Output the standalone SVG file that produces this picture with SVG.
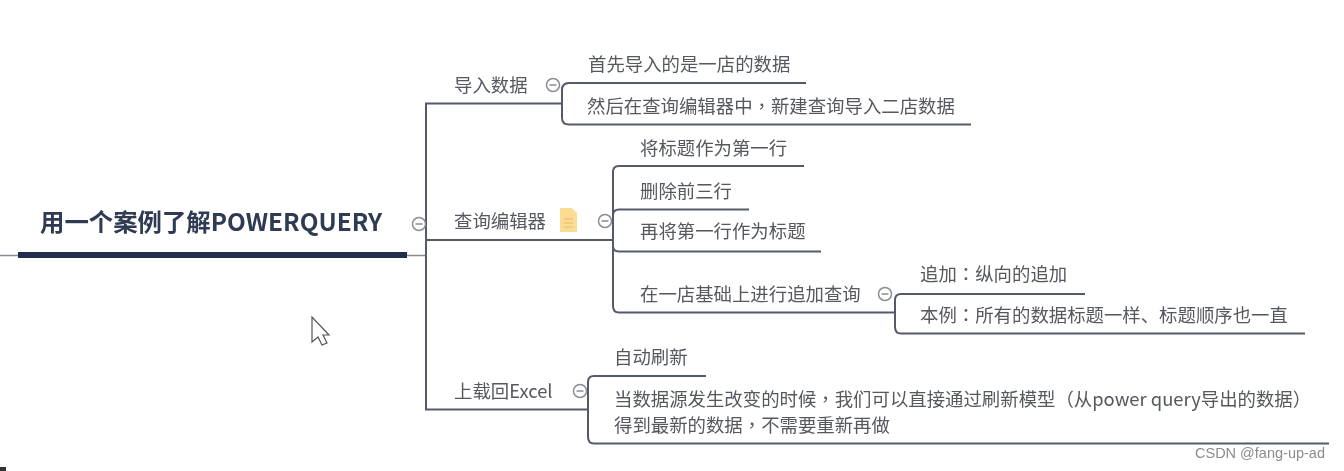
<svg xmlns="http://www.w3.org/2000/svg" width="1344" height="471" viewBox="0 0 1344 471">
<style>
text{font-family:"Noto Sans CJK SC","Liberation Sans",sans-serif;font-size:18.400px;fill:#55585f}
.p{font-family:"Noto Sans CJK TC",sans-serif}
.c{fill:none;stroke:#555a68;stroke-width:2}
.t{fill:#fff;stroke:#8a8d94;stroke-width:1.5}
.m{stroke:#8a8d94;stroke-width:1.5}
.title{font-size:24.400px;font-weight:700;fill:#2f3a52}
.wm{font-family:"Liberation Sans",sans-serif;font-size:14.500px;fill:#8c8c8c}
</style>
<defs>
<g id="tog"><circle r="6.5" class="t"/><line x1="-3.5" x2="3.5" class="m"/></g>
<filter id="soft" x="0" y="0" width="100%" height="100%"><feGaussianBlur stdDeviation="0.35"/></filter>
</defs>
<rect width="1344" height="471" fill="#fff"/>
<g filter="url(#soft)">
<g id="connectors">
<path class="c" style="stroke:#8a8d94;stroke-width:1.5" d="M0 255.500H18M407 255.500H426"/>
<path class="c" d="M562 103.500H426V409.500H588"/>
<path class="c" d="M426 240H613"/>
<path class="c" d="M806 83H569Q562 83 562 90V118Q562 124.500 569 124.500H971"/>
<path class="c" d="M804 166H619Q613 166 613 172V306Q613 312.500 619 312.500H895"/>
<path class="c" d="M749 209.500H619Q613 209.500 613 215"/>
<path class="c" d="M821 251.500H619Q613 251.500 613 246"/>
<path class="c" d="M1085 294H901Q895 294 895 300V327Q895 333.500 901 333.500H1305"/>
<path class="c" d="M706 376H594Q588 376 588 382V437Q588 443.500 594 443.500H1329"/>
</g>
<g id="root">
<rect x="18" y="252" width="389" height="6" fill="#222e4c"/>
<text class="title" x="40" y="231">用一个案例了解POWERQUERY</text>
<use href="#tog" x="419" y="224"/>
</g>
<g id="n-import"><text x="454" y="92">导入数据</text><use href="#tog" x="553" y="85"/></g>
<g id="n-editor"><text x="454" y="228">查询编辑器</text>
<path d="M560 208h12l5 5v19h-17z" fill="#fbdc95"/><path d="M564 219h9M564 223h9M564 227h9" stroke="#eabc5c" stroke-width="1" fill="none"/>
<use href="#tog" x="605" y="221"/></g>
<g id="n-load"><text x="454" y="398">上载回Excel</text><use href="#tog" x="580" y="391"/></g>
<g id="n-a1"><text x="588" y="71">首先导入的是一店的数据</text></g>
<g id="n-a2"><text x="587" y="113">然后在查询编辑器中<tspan class="p">，</tspan>新建查询导入二店数据</text></g>
<g id="n-b1"><text x="640" y="155">将标题作为第一行</text></g>
<g id="n-b2"><text x="640" y="198">删除前三行</text></g>
<g id="n-b3"><text x="640" y="238">再将第一行作为标题</text></g>
<g id="n-b4"><text x="640" y="301">在一店基础上进行追加查询</text><use href="#tog" x="885" y="294"/></g>
<g id="n-c1"><text x="920" y="281">追加<tspan class="p">：</tspan>纵向的追加</text></g>
<g id="n-c2"><text x="920" y="322">本例<tspan class="p">：</tspan>所有的数据标题一样、标题顺序也一直</text></g>
<g id="n-d1"><text x="614" y="364">自动刷新</text></g>
<g id="n-d2"><text x="614" y="406">当数据源发生改变的时候<tspan class="p">，</tspan>我们可以直接通过刷新模型（从power query导出的数据）</text><text x="614" y="432">得到最新的数据<tspan class="p">，</tspan>不需要重新再做</text></g>
<path d="M312 317V342L318 337L322 345L327 343L323 335H329Z" fill="#fff" stroke="#555" stroke-width="1.200"/>
<rect x="0" y="467" width="6" height="4" fill="#333"/>
<text class="wm" x="1195" y="458">CSDN @fang-up-ad</text>
</g>
</svg>
